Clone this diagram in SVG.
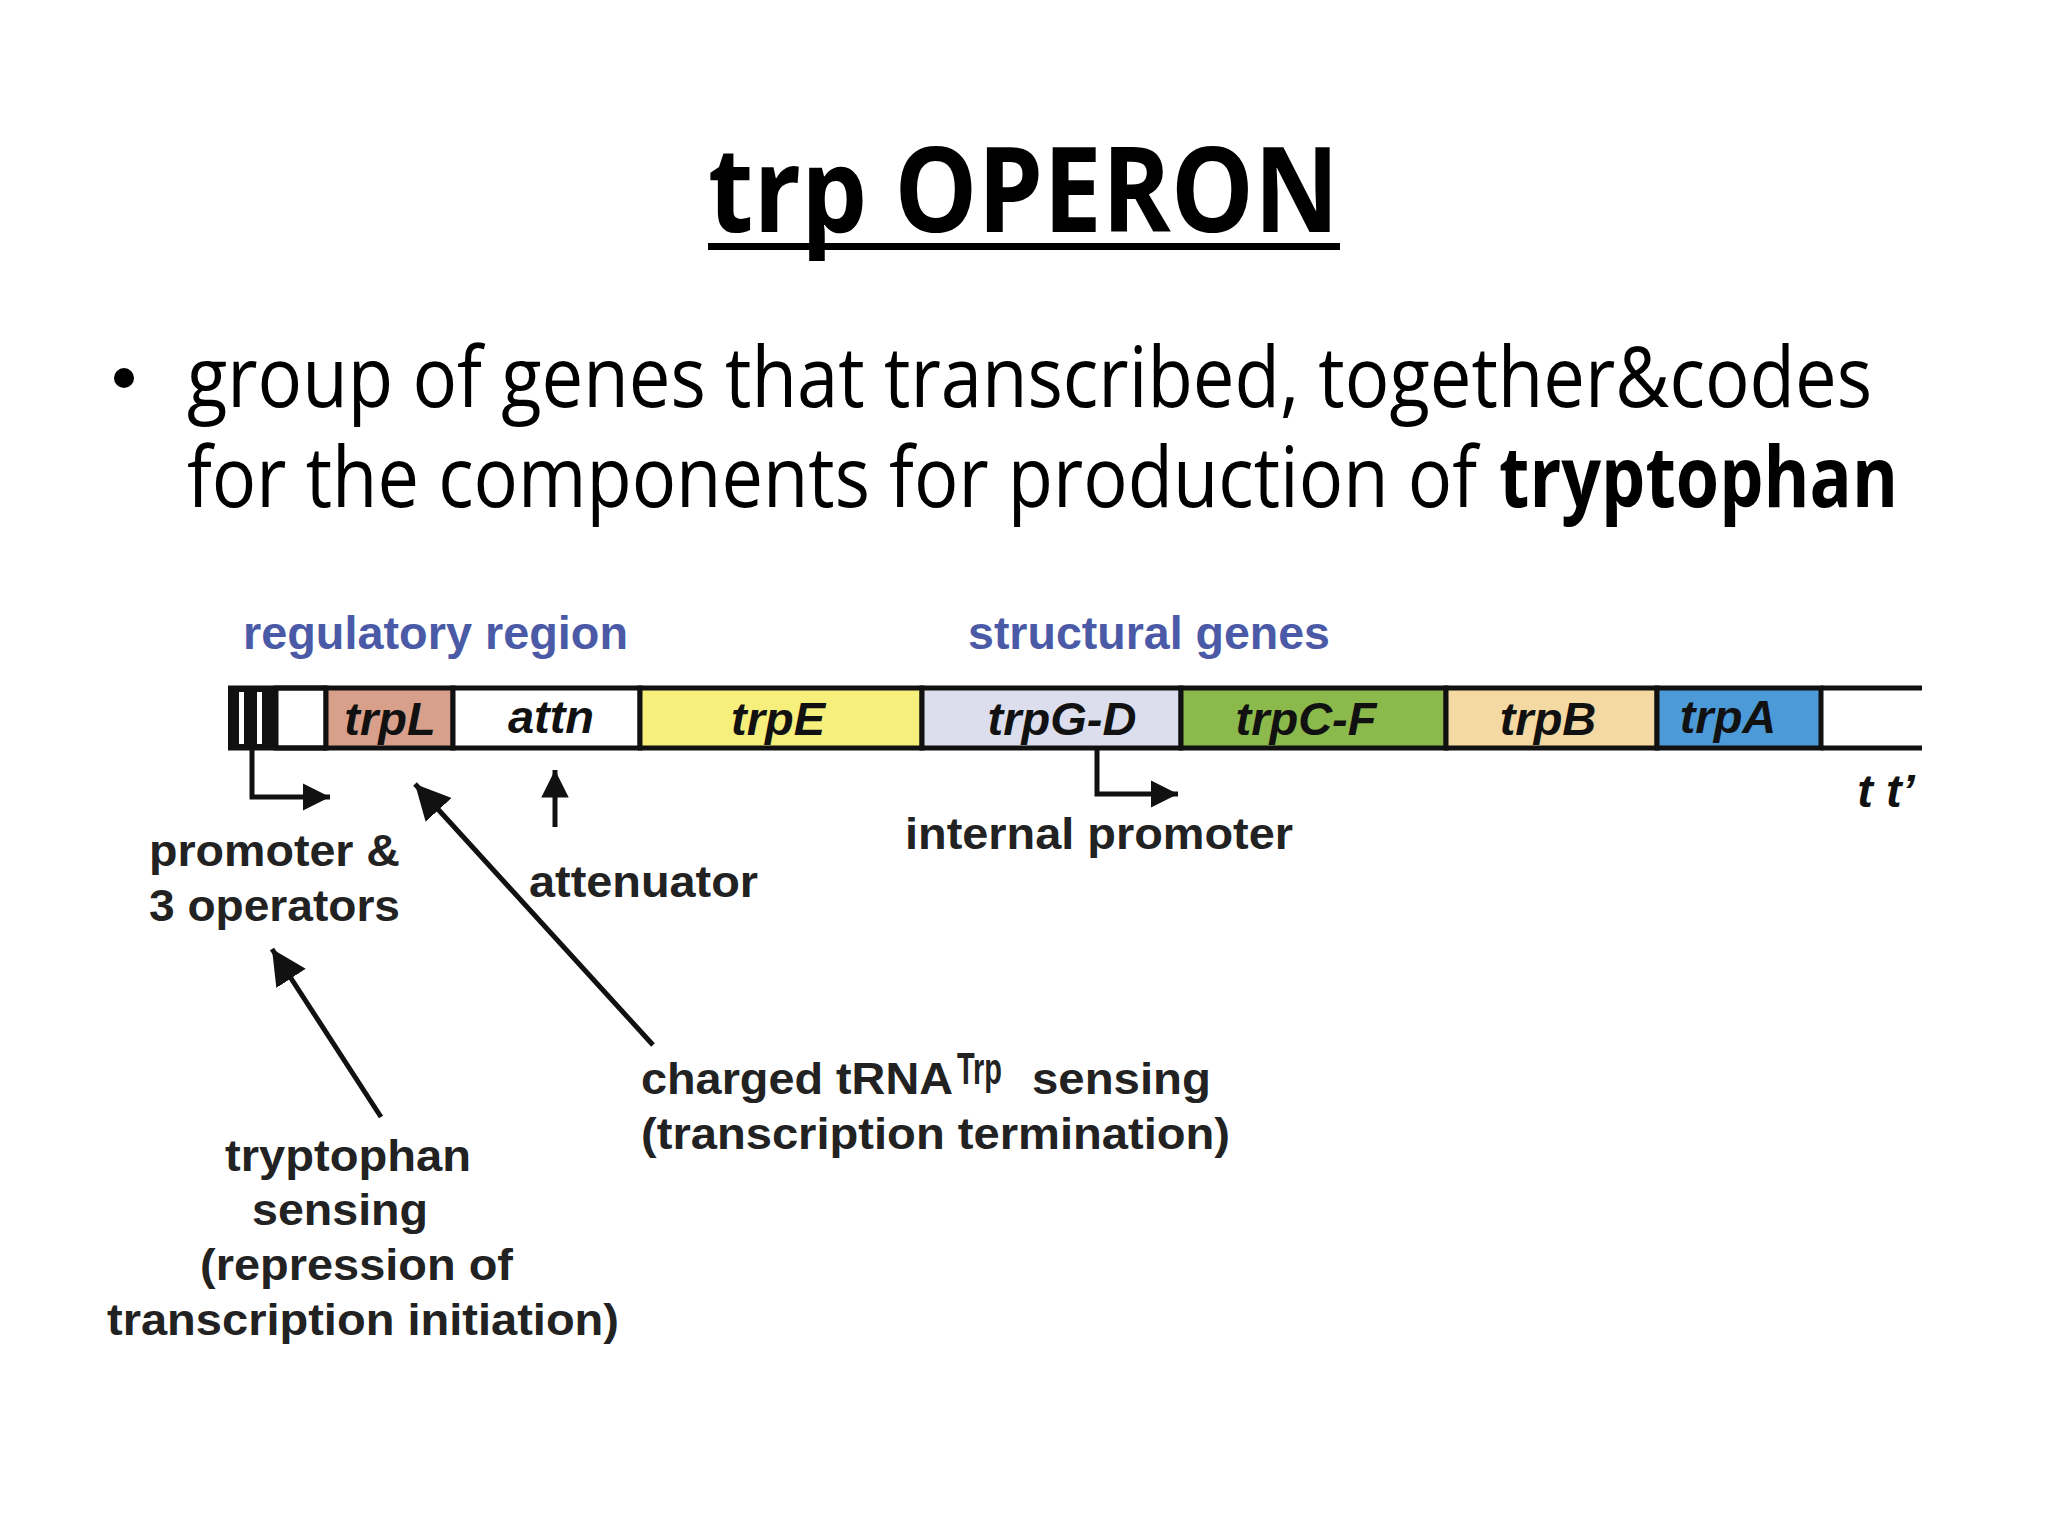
<svg xmlns="http://www.w3.org/2000/svg" width="2048" height="1536" viewBox="0 0 2048 1536">
<defs>
<style>
.title{font-family:"Open Sans","Noto Sans","Liberation Sans",sans-serif;font-weight:bold;font-size:118px;fill:#000}
.body{font-family:"Open Sans","Noto Sans","Liberation Sans",sans-serif;font-size:84px;fill:#000}
.hdr{font-family:"Liberation Sans",Arial,sans-serif;font-weight:bold;font-size:46px;fill:#4a5aa6}
.gene{font-family:"Liberation Sans",Arial,sans-serif;font-weight:bold;font-style:italic;font-size:47px;fill:#111;text-anchor:middle}
.lbl{font-family:"Liberation Sans",Arial,sans-serif;font-weight:bold;font-size:44px;fill:#222}
.seg{stroke:#111;stroke-width:5}
.ln{stroke:#111;stroke-width:5;fill:none}
</style>
<marker id="ah" viewBox="0 0 10 10" refX="10" refY="5" markerWidth="5.5" markerHeight="5.5" markerUnits="strokeWidth" orient="auto">
<path d="M0,0 L10,5 L0,10 z" fill="#111"/>
</marker>
<marker id="ah2" viewBox="0 0 10 10" refX="10" refY="5" markerWidth="7" markerHeight="7" markerUnits="strokeWidth" orient="auto">
<path d="M0,0 L10,5 L0,10 z" fill="#111"/>
</marker>
</defs>
<rect width="2048" height="1536" fill="#fff"/>
<g id="title">
<text class="title" x="708" y="232" textLength="631" lengthAdjust="spacingAndGlyphs">trp OPERON</text>
<rect x="708" y="243" width="632" height="7" fill="#000"/>
</g>
<g id="bullet">
<circle cx="124" cy="378" r="10" fill="#000"/>
<text class="body" x="187" y="407" textLength="1685" lengthAdjust="spacingAndGlyphs">group of genes that transcribed, together&amp;codes</text>
<text class="body" x="187" y="507" textLength="1290" lengthAdjust="spacingAndGlyphs">for the components for production of</text>
<text class="body" x="1499" y="507" font-weight="bold" textLength="399" lengthAdjust="spacingAndGlyphs">tryptophan</text>
</g>
<g id="headers">
<text class="hdr" x="243" y="649" textLength="385" lengthAdjust="spacingAndGlyphs">regulatory region</text>
<text class="hdr" x="968" y="649" textLength="362" lengthAdjust="spacingAndGlyphs">structural genes</text>
</g>
<g id="operon-bar">
<rect x="228" y="688" width="48" height="60" fill="#111"/>
<rect x="239" y="692" width="5" height="52" fill="#fff"/>
<rect x="257" y="692" width="5" height="52" fill="#fff"/>
<rect class="seg" x="276" y="688" width="50" height="60" fill="#fff"/>
<rect class="seg" x="326" y="688" width="127" height="60" fill="#d8a08a"/>
<rect class="seg" x="453" y="688" width="187" height="60" fill="#fff"/>
<rect class="seg" x="640" y="688" width="282" height="60" fill="#f6ef7c"/>
<rect class="seg" x="922" y="688" width="259" height="60" fill="#dcdeee"/>
<rect class="seg" x="1181" y="688" width="265" height="60" fill="#8bb94b"/>
<rect class="seg" x="1446" y="688" width="211" height="60" fill="#f4d9a2"/>
<rect class="seg" x="1657" y="688" width="164" height="60" fill="#4c9bd8"/>
<line class="ln" x1="1821" y1="688" x2="1922" y2="688"/>
<line class="ln" x1="1821" y1="748" x2="1922" y2="748"/>
<line class="ln" x1="228" y1="688" x2="326" y2="688"/>
<line class="ln" x1="228" y1="748" x2="326" y2="748"/>
</g>
<g id="gene-labels">
<text class="gene" x="390" y="735">trpL</text>
<text class="gene" x="551" y="733">attn</text>
<text class="gene" x="778" y="735">trpE</text>
<text class="gene" x="1062" y="735">trpG-D</text>
<text class="gene" x="1306" y="735">trpC-F</text>
<text class="gene" x="1548" y="735">trpB</text>
<text class="gene" x="1728" y="733">trpA</text>
<text class="gene" x="1886" y="807" font-family="Liberation Serif,serif" font-size="40">t t’</text>
</g>
<g id="connectors">
<path class="ln" d="M252,748 V797 H330" marker-end="url(#ah)"/>
<path class="ln" d="M1097,748 V794 H1178" marker-end="url(#ah)"/>
<line class="ln" x1="555" y1="827" x2="555" y2="770" marker-end="url(#ah)"/>
<line class="ln" x1="653" y1="1045" x2="415" y2="784" stroke-width="4" marker-end="url(#ah2)"/>
<line class="ln" x1="381" y1="1117" x2="272" y2="949" stroke-width="4" marker-end="url(#ah2)"/>
</g>
<g id="labels">
<text class="lbl" x="149" y="866" textLength="251" lengthAdjust="spacingAndGlyphs">promoter &amp;</text>
<text class="lbl" x="149" y="921" textLength="251" lengthAdjust="spacingAndGlyphs">3 operators</text>
<text class="lbl" x="529" y="897" textLength="229" lengthAdjust="spacingAndGlyphs">attenuator</text>
<text class="lbl" x="905" y="849" textLength="388" lengthAdjust="spacingAndGlyphs">internal promoter</text>
<text class="lbl" x="641" y="1094" textLength="312" lengthAdjust="spacingAndGlyphs">charged tRNA</text>
<text class="lbl" x="957" y="1084" font-size="26" textLength="45" lengthAdjust="spacingAndGlyphs">Trp</text>
<text class="lbl" x="1032" y="1094" textLength="179" lengthAdjust="spacingAndGlyphs">sensing</text>
<text class="lbl" x="641" y="1149" textLength="589" lengthAdjust="spacingAndGlyphs">(transcription termination)</text>
<text class="lbl" x="225" y="1171" textLength="246" lengthAdjust="spacingAndGlyphs">tryptophan</text>
<text class="lbl" x="252" y="1225" textLength="176" lengthAdjust="spacingAndGlyphs">sensing</text>
<text class="lbl" x="200" y="1280" textLength="313" lengthAdjust="spacingAndGlyphs">(repression of</text>
<text class="lbl" x="107" y="1335" textLength="512" lengthAdjust="spacingAndGlyphs">transcription initiation)</text>
</g>
</svg>
